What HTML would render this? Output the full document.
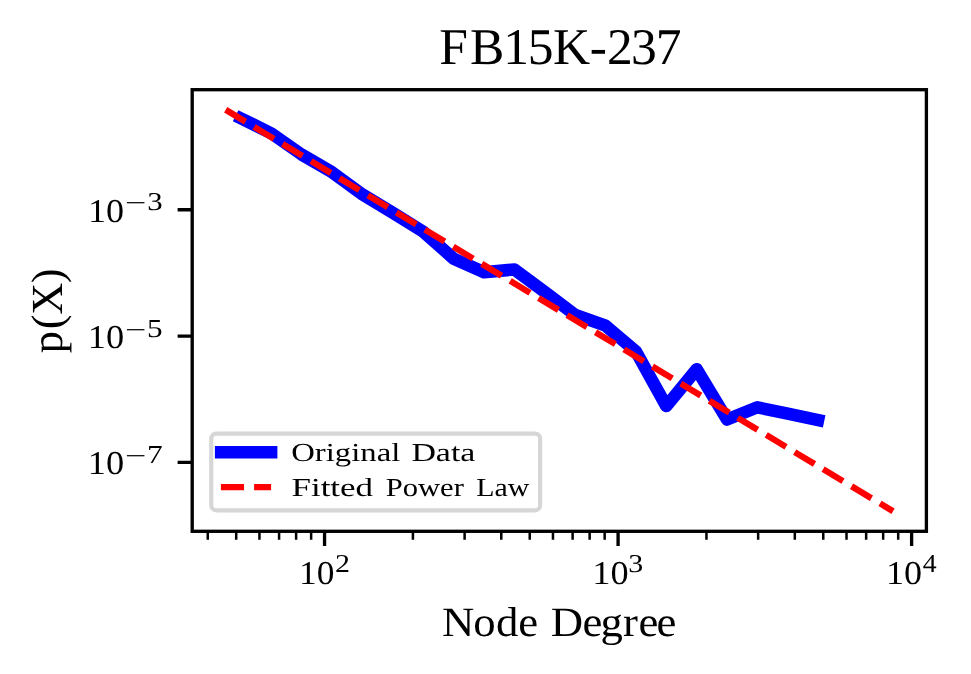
<!DOCTYPE html>
<html><head><meta charset="utf-8"><title>FB15K-237</title><style>html,body{margin:0;padding:0;background:#fff;}svg{display:block;}text{text-rendering:geometricPrecision;}</style></head><body>
<svg width="971" height="674" viewBox="0 0 971 674">
<rect width="971" height="674" fill="#fff"/>
<clipPath id="c"><rect x="192.2" y="89.7" width="734.2" height="441.6"/></clipPath>
<g clip-path="url(#c)">
<polyline fill="none" stroke="#0000ff" stroke-width="12.5" stroke-linecap="square" stroke-linejoin="round" points="241.2,118.5 271.59,133.5 301.58,154.5 331.99,172.2 362.82,194.7 392.95,212.9 423.32,231.7 453.75,258.7 484.08,272.2 514.44,269.5 544.86,292 575.24,314.9 605.58,325.7 635.96,351.5 666.33,406.1 696.68,369.2 727.04,419.5 757.39,407.3 787.73,413.7 818.07,420.1"/>
<line x1="225.7" y1="109.77" x2="893.03" y2="511.23" stroke="#ff0000" stroke-width="6.25" stroke-dasharray="23.15 10.05"/>
</g>
<path d="M324.56 531.3v14.58 M618.09 531.3v14.58 M911.62 531.3v14.58" stroke="#000" stroke-width="3.33" fill="none"/>
<path d="M207.76 531.3v8.33 M236.2 531.3v8.33 M259.44 531.3v8.33 M279.09 531.3v8.33 M296.12 531.3v8.33 M311.13 531.3v8.33 M412.92 531.3v8.33 M464.61 531.3v8.33 M501.28 531.3v8.33 M529.73 531.3v8.33 M552.97 531.3v8.33 M572.62 531.3v8.33 M589.64 531.3v8.33 M604.66 531.3v8.33 M706.45 531.3v8.33 M758.14 531.3v8.33 M794.81 531.3v8.33 M823.26 531.3v8.33 M846.5 531.3v8.33 M866.15 531.3v8.33 M883.17 531.3v8.33 M898.19 531.3v8.33" stroke="#000" stroke-width="2.5" fill="none"/>
<path d="M192.2 209.78h-14.58 M192.2 336.1h-14.58 M192.2 462.42h-14.58" stroke="#000" stroke-width="3.33" fill="none"/>
<rect x="211.25" y="433.6" width="328.85" height="76.7" rx="5" fill="#fff" stroke="#d6d6d6" stroke-width="4.17"/>
<line x1="221.15" y1="452.3" x2="271.15" y2="452.3" stroke="#0000ff" stroke-width="12.5" stroke-linecap="square"/>
<line x1="220.9" y1="487.2" x2="271.1" y2="487.2" stroke="#ff0000" stroke-width="6.25" stroke-dasharray="23.15 10.05"/>
<rect x="192.2" y="89.7" width="734.2" height="441.6" fill="none" stroke="#000" stroke-width="3.33" stroke-linejoin="miter"/>
<text transform="scale(1.0 1)" x="439.37 470.04 503.26 527.68 552.98 589.8 607.01 631 655.67" y="64.2" font-size="51.5" font-family="'Liberation Serif', 'DejaVu Serif', serif">FB15K-237</text>
<text transform="scale(1.07 1)" x="413.1 442.35 463.58 484.42 502.97 514.77 544.46 561.2 582.29 596.66 613.53" y="635.9" font-size="41.8" font-family="'Liberation Serif', 'DejaVu Serif', serif">Node Degree</text>
<text transform="translate(61.7 353) rotate(-90) scale(1.0 1)" x="-0.19 23.7 38.23 69.72" y="0" font-size="44.4" font-family="'Liberation Serif', 'DejaVu Serif', serif">p(X)</text>
<text x="298.95" y="584.0" font-size="33.3" font-family="'Liberation Serif', 'DejaVu Serif', serif" textLength="35.44" lengthAdjust="spacingAndGlyphs">10</text>
<text x="334.98" y="572.45" font-size="25.8" font-family="'Liberation Serif', 'DejaVu Serif', serif" textLength="15.02" lengthAdjust="spacingAndGlyphs">2</text>
<text x="592.38" y="584.0" font-size="33.3" font-family="'Liberation Serif', 'DejaVu Serif', serif" textLength="36.32" lengthAdjust="spacingAndGlyphs">10</text>
<text x="628.15" y="572.45" font-size="25.8" font-family="'Liberation Serif', 'DejaVu Serif', serif" textLength="14.96" lengthAdjust="spacingAndGlyphs">3</text>
<text x="886.09" y="584.0" font-size="33.3" font-family="'Liberation Serif', 'DejaVu Serif', serif" textLength="36.09" lengthAdjust="spacingAndGlyphs">10</text>
<text x="922.71" y="572.45" font-size="25.8" font-family="'Liberation Serif', 'DejaVu Serif', serif" textLength="13.9" lengthAdjust="spacingAndGlyphs">4</text>
<text x="87.94" y="222.0" font-size="33.3" font-family="'Liberation Serif', 'DejaVu Serif', serif" textLength="36.13" lengthAdjust="spacingAndGlyphs">10</text>
<text x="125.1" y="211.07" font-size="25" font-family="'Liberation Serif', 'DejaVu Serif', serif" textLength="21.3" lengthAdjust="spacingAndGlyphs">−</text>
<text x="147.22" y="210.3" font-size="25.8" font-family="'Liberation Serif', 'DejaVu Serif', serif" textLength="15.41" lengthAdjust="spacingAndGlyphs">3</text>
<text x="87.85" y="348.3" font-size="33.3" font-family="'Liberation Serif', 'DejaVu Serif', serif" textLength="36.38" lengthAdjust="spacingAndGlyphs">10</text>
<text x="125.1" y="337.67" font-size="25" font-family="'Liberation Serif', 'DejaVu Serif', serif" textLength="21.3" lengthAdjust="spacingAndGlyphs">−</text>
<text x="147.12" y="336.5" font-size="25.8" font-family="'Liberation Serif', 'DejaVu Serif', serif" textLength="15.61" lengthAdjust="spacingAndGlyphs">5</text>
<text x="87.85" y="474.4" font-size="33.3" font-family="'Liberation Serif', 'DejaVu Serif', serif" textLength="36.38" lengthAdjust="spacingAndGlyphs">10</text>
<text x="125.1" y="463.97" font-size="25" font-family="'Liberation Serif', 'DejaVu Serif', serif" textLength="21.3" lengthAdjust="spacingAndGlyphs">−</text>
<text x="147.09" y="462.7" font-size="25.8" font-family="'Liberation Serif', 'DejaVu Serif', serif" textLength="15.71" lengthAdjust="spacingAndGlyphs">7</text>
<text x="291.25" y="461.3" font-size="26.0" font-family="'Liberation Serif', 'DejaVu Serif', serif" textLength="109.03" lengthAdjust="spacingAndGlyphs">Original</text>
<text x="411.43" y="461.3" font-size="26.0" font-family="'Liberation Serif', 'DejaVu Serif', serif" textLength="63.9" lengthAdjust="spacingAndGlyphs">Data</text>
<text x="291.47" y="496.0" font-size="26.0" font-family="'Liberation Serif', 'DejaVu Serif', serif" textLength="81.63" lengthAdjust="spacingAndGlyphs">Fitted</text>
<text x="385.69" y="496.0" font-size="26.0" font-family="'Liberation Serif', 'DejaVu Serif', serif" textLength="78.13" lengthAdjust="spacingAndGlyphs">Power</text>
<text x="476.34" y="496.0" font-size="26.0" font-family="'Liberation Serif', 'DejaVu Serif', serif" textLength="53.07" lengthAdjust="spacingAndGlyphs">Law</text>
</svg>
</body></html>
